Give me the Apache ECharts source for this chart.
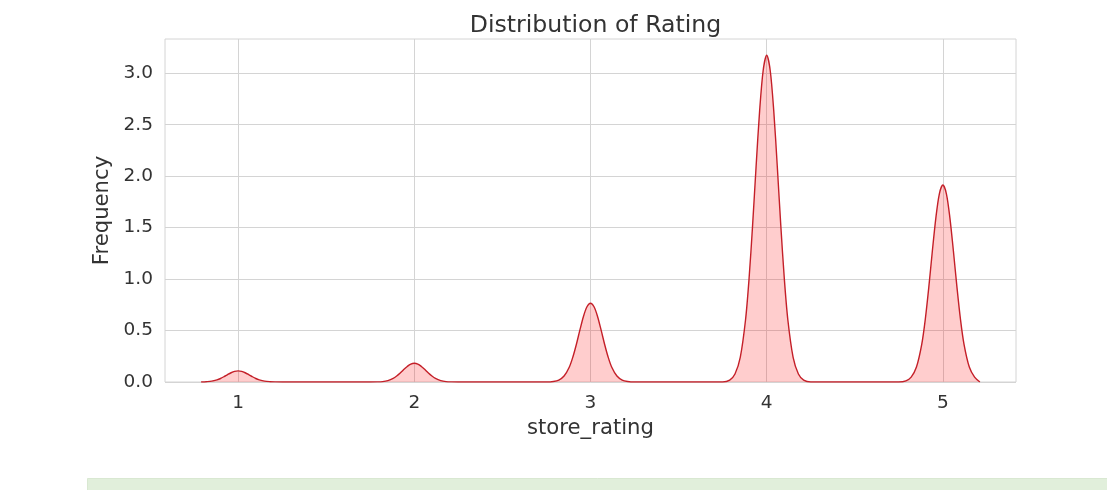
<!DOCTYPE html>
<html>
<head>
<meta charset="utf-8">
<script src="https://cdn.jsdelivr.net/npm/echarts@6/dist/echarts.min.js"></script>
<style>
html,body{margin:0;padding:0;background:#fff;}
#chart{width:1107px;height:490px;}
</style>
</head>
<body>
<div id="chart"></div>
<script>
// Tick labels / categories
const ratingTicks = [1, 2, 3, 4, 5];
const freqTicks = [0, 0.5, 1.0, 1.5, 2.0, 2.5, 3.0];

// KDE curve points (store_rating, density)
const kdeX = [
  0.79,0.82,0.85,0.88,0.90,0.92,0.94,0.96,0.98,1.00,1.02,1.04,1.06,1.08,1.10,1.12,1.15,1.18,1.21,1.25,
  1.75,1.79,1.82,1.85,1.88,1.90,1.92,1.94,1.96,1.98,2.00,2.02,2.04,2.06,2.08,2.10,2.12,2.15,2.18,2.21,2.25,
  2.75,2.79,2.82,2.85,2.88,2.90,2.92,2.94,2.96,2.98,3.00,3.02,3.04,3.06,3.08,3.10,3.12,3.15,3.18,3.21,3.25,
  3.75,3.79,3.82,3.85,3.88,3.90,3.92,3.94,3.96,3.98,4.00,4.02,4.04,4.06,4.08,4.10,4.12,4.15,4.18,4.21,4.25,
  4.75,4.79,4.82,4.85,4.88,4.90,4.92,4.94,4.96,4.98,5.00,5.02,5.04,5.06,5.08,5.10,5.12,5.15,5.18,5.21
];
const kdeY = [
  0.000,0.003,0.008,0.021,0.034,0.052,0.072,0.090,0.103,0.108,0.103,0.090,0.072,0.052,0.034,0.021,0.008,0.003,0.001,0.000,
  0.000,0.001,0.004,0.014,0.035,0.058,0.087,0.121,0.151,0.174,0.182,0.174,0.151,0.121,0.087,0.058,0.035,0.014,0.004,0.001,0.000,
  0.000,0.005,0.019,0.058,0.146,0.243,0.367,0.506,0.637,0.731,0.765,0.731,0.637,0.506,0.367,0.243,0.146,0.058,0.019,0.005,0.000,
  0.000,0.018,0.077,0.239,0.605,1.005,1.522,2.099,2.637,3.027,3.175,3.027,2.637,2.099,1.522,1.005,0.605,0.239,0.077,0.018,0.000,
  0.000,0.011,0.047,0.145,0.366,0.607,0.919,1.268,1.593,1.829,1.915,1.829,1.593,1.268,0.919,0.607,0.366,0.145,0.047,0.000
];

const seriesData = kdeX.map((x, i) => [x, kdeY[i]]);
const textColor = '#333333';
const font = 'DejaVu Sans';

const chart = echarts.init(document.getElementById('chart'), null, {renderer: 'canvas'});
chart.setOption({
  animation: false,
  backgroundColor: '#ffffff',
  textStyle: {fontFamily: font},
  title: {
    text: 'Distribution of Rating',
    left: 590.5,
    textAlign: 'center',
    top: 9,
    textStyle: {fontFamily: font, fontSize: 23.6, fontWeight: 'normal', color: textColor}
  },
  grid: {
    left: 165, right: 91, top: 39, bottom: 108,
    show: true, borderColor: '#d4d4d4', borderWidth: 1, backgroundColor: 'transparent'
  },
  xAxis: {
    type: 'value',
    min: 0.585, max: 5.415,
    name: 'store_rating',
    nameLocation: 'middle',
    nameGap: 36,
    nameTextStyle: {fontFamily: font, fontSize: 21.2, color: textColor},
    axisLine: {show: false},
    axisTick: {show: false, customValues: ratingTicks},
    axisLabel: {customValues: ratingTicks, fontFamily: font, fontSize: 18.5, color: textColor, margin: 12},
    splitLine: {show: true, lineStyle: {color: '#d4d4d4', width: 1}}
  },
  yAxis: {
    type: 'value',
    min: 0, max: 3.333,
    name: 'Frequency',
    nameLocation: 'middle',
    nameGap: 47,
    nameTextStyle: {fontFamily: font, fontSize: 21.2, color: textColor},
    axisLine: {show: false},
    axisTick: {show: false, customValues: freqTicks},
    axisLabel: {
      customValues: freqTicks,
      fontFamily: font, fontSize: 18.5, color: textColor, margin: 12,
      formatter: v => v.toFixed(1)
    },
    splitLine: {show: true, lineStyle: {color: '#d4d4d4', width: 1}}
  },
  series: [{
    type: 'line',
    data: seriesData,
    showSymbol: false,
    smooth: 0.3,
    lineStyle: {color: '#c41f28', width: 1.4},
    areaStyle: {color: 'rgba(255, 0, 0, 0.28)'},
    z: 3
  }],
  graphic: [{
    type: 'rect',
    shape: {x: 87.5, y: 478.5, width: 1030, height: 20},
    style: {fill: '#e1efdb', stroke: '#d9e8d2', lineWidth: 1},
    silent: true
  }]
});
</script>
</body>
</html>
